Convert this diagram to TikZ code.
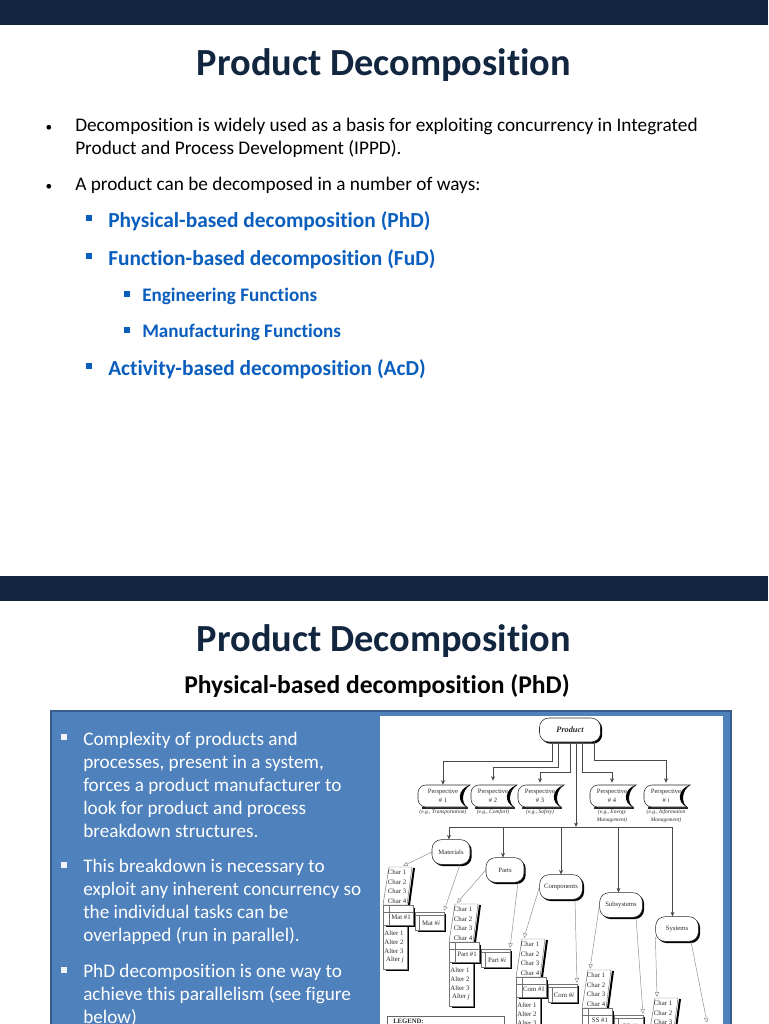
\documentclass[tikz,border=0pt]{standalone}
\usepackage{fontspec}
\setmainfont[Ligatures=CommonOff]{Carlito}
\newfontfamily\figfont{Liberation Serif}
\usetikzlibrary{arrows.meta,shadows}
\definecolor{barcol}{HTML}{12263F}
\definecolor{bluehead}{HTML}{0A5EBE}
\definecolor{panelfill}{HTML}{4F81BD}
\definecolor{panelline}{HTML}{385D8A}
\definecolor{figink}{HTML}{2A2A2A}
\tikzset{
    titletext/.style={font=\bfseries\fontsize{28.75}{32}\selectfont,text=barcol},
    subtitletext/.style={font=\bfseries\fontsize{19.2}{22}\selectfont,text=black!90!barcol},
    bodytext/.style={anchor=base west,inner sep=0pt,align=left,font=\fontsize{14.45}{17.25}\selectfont},
    headtext/.style={anchor=base west,inner sep=0pt,text=bluehead,font=\bfseries\fontsize{16.05}{18}\selectfont},
    subheadtext/.style={anchor=base west,inner sep=0pt,text=bluehead,font=\bfseries\fontsize{14.35}{16}\selectfont},
    paneltext/.style={anchor=base west,inner sep=0pt,align=left,font=\fontsize{14.4}{17.25}\selectfont,text=white},
    sqbullet/.style={fill=bluehead,inner sep=0pt,minimum size=4.5pt},
    whitebullet/.style={sqbullet,fill=white!92!panelfill,minimum size=4pt},
    roundbox/.style={draw=figink,line width=0.4pt,fill=white,rounded corners=7pt,inner sep=0pt,
        minimum width=#1,minimum height=18.5pt,text=figink,font=\figfont\fontsize{5}{6}\selectfont,
        drop shadow={shadow xshift=1.3pt,shadow yshift=-1.3pt,opacity=1,fill=black}},
    charlabel/.style={inner sep=0pt,text=figink,font=\figfont\fontsize{5.1}{6}\selectfont},
    arr/.style={draw=figink!85,line width=0.45pt,-{Stealth[length=3.4pt,width=3pt]}},
    conn/.style={draw=figink!85,line width=0.45pt},
    thinarr/.style={draw=black!45,line width=0.35pt,-{Triangle[open,length=3.6pt,width=3.2pt]}},
    boxline/.style={draw=black!55,line width=0.35pt,fill=white},
}
% perspective sheet: name, x, y, half width, number, caption
\newcommand{\perspsheet}[6]{
    \begin{scope}[shift={(#2,#3)}]
        \draw[line width=1pt,black!85] (-#4+4,12) -- (#4,12);
        \draw[line width=0.4pt,draw=figink,fill=white] ({#4+2},-11) [rounded corners=6pt] -- (-#4,-11) -- (-#4,11) [sharp corners] -- ({#4-1},11)
            .. controls ({#4-7},8) and ({#4-7},-6) .. ({#4+2},-11) -- cycle;
        \fill[black] ({#4+2},-11) .. controls ({#4-7},-6) and ({#4-7},8) .. ({#4-1},11)
            .. controls ({#4-11},7) and ({#4-11},-7) .. ({#4+2},-11) -- cycle;
        \node[inner sep=0pt,minimum height=16.5pt,align=center,text=figink,font=\figfont\fontsize{4.9}{6.7}\selectfont] (#1) at (0,0) {Perspective\\#5};
        \node[anchor=north,inner sep=0pt,align=center,text=figink,font=\figfont\itshape\fontsize{4.1}{6}\selectfont] (#1cap) at (0,13) {#6};
    \end{scope}
}
% block of characteristics and alternatives: name, x, y, main label, last label
\newcommand{\charblock}[5]{
    \begin{scope}[shift={(#2,#3)}]
        \draw[boxline] (6,-38) -- (29,-38) -- (24,0) -- (0,0) -- cycle;
        \draw[line width=1.5pt,black] (31,-37) -- (26,0);
        \foreach \n/\y in {1/-33,2/-23,3/-14,4/-4}
            \node[charlabel] (#1char\n) at (14,\y) {Char \n};
        \fill[black] (3,22) rectangle (26,66);
        \draw[boxline] (0,20) rectangle (24,64);
        \foreach \n/\y in {1/28,2/37,3/46}
            \node[charlabel] (#1alter\n) at (11,\y) {Alter \n};
        \node[charlabel] (#1alter4) at (12,55) {Alter \textit{j}};
        \fill[black] (3,3) rectangle (32,22);
        \draw[boxline] (0,0) rectangle (30,20);
        \draw[boxline] (0,7) -- (30,7) (6,0) -- (6,20);
        \node[charlabel] (#1main) at (18,12) {#4};
        \fill[black] (35,9) rectangle (63,27);
        \draw[boxline] (32,7) rectangle (61,25);
        \draw[boxline] (32,10) -- (61,10) (36,10) -- (36,25);
        \node[charlabel] (#1last) at (48,18) {#5};
        \coordinate (#1page) at (8,-39);
        \coordinate (#1tab) at (61,6);
    \end{scope}
}

\begin{document}
\begin{tikzpicture}[x=0.75pt,y=-0.75pt]
    \clip (0,0) rectangle (768,1024);
    \fill[white] (0,0) rectangle (768,1024);

    % top slide
    \fill[barcol] (0,0) rectangle (768,25);
    \node[titletext] (title1) at (384,65) {Product Decomposition};
    \node[anchor=base,inner sep=0pt] (dot1) at (49,131) {•};
    \node[bodytext] (line1) at (75,154) {Decomposition is widely used as a basis for exploiting concurrency in Integrated\\Product and Process Development (IPPD).};
    \node[anchor=base,inner sep=0pt] (dot2) at (49,190) {•};
    \node[bodytext] (line2) at (75,190) {A product can be decomposed in a number of ways:};
    \foreach \n/\y/\txt in {a/227/Physical-based decomposition (PhD),b/265/Function-based decomposition (FuD),c/375/Activity-based decomposition (AcD)}{
        \node[sqbullet] (mark\n) at (89,\y-9) {};
        \node[headtext] (head\n) at (108,\y) {\txt};
    }
    \foreach \n/\y/\txt in {a/301/Engineering Functions,b/337/Manufacturing Functions}{
        \node[sqbullet] (submark\n) at (127,\y-7) {};
        \node[subheadtext] (subhead\n) at (142,\y) {\txt};
    }

    % bottom slide
    \fill[barcol] (0,576) rectangle (768,601);
    \node[titletext] (title2) at (384,641) {Product Decomposition};
    \node[subtitletext] (subtitle) at (377,686) {Physical-based decomposition (PhD)};
    \draw[draw=panelline,line width=1.2pt,fill=panelfill] (51,711) rectangle (731,1040);
    \fill[white] (380,716) rectangle (723,1040);
    \node[whitebullet] (pmarka) at (64,737) {};
    \node[paneltext] (ptexta) at (83,837) {Complexity of products and\\processes, present in a system,\\forces a product manufacturer to\\look for product and process\\breakdown structures.};
    \node[whitebullet] (pmarkb) at (64,865) {};
    \node[paneltext] (ptextb) at (83,941) {This breakdown is necessary to\\exploit any inherent concurrency so\\the individual tasks can be\\overlapped (run in parallel).};
    \node[whitebullet] (pmarkc) at (64,970) {};
    \node[paneltext] (ptextc) at (83,1023) {PhD decomposition is one way to\\achieve this parallelism (see figure\\below)};

    % figure
    \node[roundbox=45.75pt,minimum height=18pt,font=\figfont\bfseries\itshape\fontsize{6.2}{7}\selectfont] (product) at (570,730) {Product};
    \perspsheet{pa}{443}{796}{25}{\# 1}{(e.g., Transportation)}
    \perspsheet{pb}{493}{796}{22}{\# 2}{(e.g., Comfort)}
    \perspsheet{pc}{540}{796}{22}{\# 3}{(e.g., Safety)}
    \perspsheet{pd}{612}{796}{22}{\# 4}{(e.g., Energy\\Management)}
    \perspsheet{pe}{666}{796}{22}{\# \textit{i}}{(e.g., Information\\Management)}

    \draw[arr] ([xshift=-13.5pt]product.south) -- ++(0,19) -| (pa.north);
    \draw[arr,shorten >=3pt] ([xshift=-9pt]product.south) -- ++(0,25) -| (pb.north);
    \draw[arr,shorten >=1.5pt] (product.south) -- ++(0,30) -| (pc.north);
    \draw[arr,shorten >=1.5pt] ([xshift=9pt]product.south) -- ++(0,30) -| (pd.north);
    \draw[arr,shorten >=1.5pt] ([xshift=18pt]product.south) -- ++(0,18) -| (pe.north);

    \node[roundbox=28.5pt] (materials) at (451,852) {Materials};
    \node[roundbox=28.5pt] (parts) at (505,870) {Parts};
    \node[roundbox=32pt] (components) at (561,887) {Components};
    \node[roundbox=32pt] (subsystems) at (621,905) {Subsystems};
    \node[roundbox=32pt] (systems) at (677,929) {Systems};

    \coordinate (bus) at (576,827);
    \draw[arr] ([xshift=4.5pt]product.south) -- (bus);
    \foreach \name/\x in {materials/449,parts/503,components/561,subsystems/618.5,systems/672.5}{
        \coordinate (bus\name) at (\x,827);
        \draw[arr] (bus\name) -- (bus\name |- \name.north);
    }
    \draw[conn] (busmaterials) -- (bussystems);

    \charblock{mat}{383}{905}{Mat \#1}{Mat \#\textit{i}}
    \charblock{part}{449}{942}{Part \#1}{Part \#\textit{i}}
    \charblock{com}{516}{977}{Com \#1}{Com \#\textit{i}}
    \charblock{ss}{582}{1008}{SS \#1}{SS \#\textit{i}}
    \charblock{sys}{649}{1036}{Sys \#1}{Sys \#\textit{i}}

    \draw[thinarr] (materials.west) -- ([xshift=9pt]matpage);
    \draw[thinarr] ([xshift=6.75pt]materials.south) -- (mattab);
    \draw[thinarr] (parts.west) -- (partpage);
    \draw[thinarr] ([xshift=9.75pt]parts.south) -- (parttab);
    \draw[thinarr] (components.west) -- (compage);
    \draw[thinarr] ([xshift=10.5pt]components.south) -- (comtab);
    \draw[thinarr] (subsystems.west) -- (sspage);
    \draw[thinarr] ([xshift=11.25pt]subsystems.south) -- (sstab);
    \draw[thinarr] ([yshift=-6pt]systems.west) -- (syspage);
    \draw[thinarr] ([xshift=10.5pt]systems.south) -- ++(16,81) coordinate (sysend);

    \node[draw=black!60,line width=0.4pt,anchor=north west,minimum width=87.75pt,minimum height=15pt,inner sep=0pt] (legendbox) at (387,1016) {};
    \node[anchor=north west,inner sep=0pt,text=figink,font=\figfont\bfseries\fontsize{5}{6}\selectfont] (legend) at (393,1019) {LEGEND:};
\end{tikzpicture}
\end{document}
